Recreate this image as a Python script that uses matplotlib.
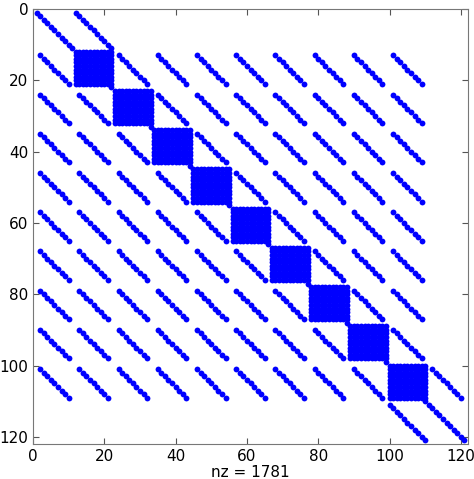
import numpy as np
import matplotlib.pyplot as plt

# block layout: 11 blocks of 11 unknowns (1-based indices)
n_blocks = 11
block_size = 11
dense_rows = (0, 10)        # filled rows inside a diagonal block (0-based offsets, end exclusive)
dense_cols = (0, 11)
inner = (1, 10)             # shortened identity used for couplings
interior_blocks = list(range(1, 10))

N = n_blocks * block_size
A = np.zeros((N, N), dtype=bool)

def eye_block(bi, bj, lo=0, hi=block_size):
    for k in range(lo, hi):
        A[bi * block_size + k, bj * block_size + k] = True

# first block row
eye_block(0, 0)
eye_block(0, 1)
# interior block rows
for bi in interior_blocks:
    r0 = bi * block_size
    A[r0 + dense_rows[0]:r0 + dense_rows[1], r0 + dense_cols[0]:r0 + dense_cols[1]] = True
    A[r0 + 10, r0 + 10] = True
    for bj in interior_blocks + [0]:
        if bj != bi:
            eye_block(bi, bj, *inner)
eye_block(9, 10, *inner)
# last block row
eye_block(10, 9)
eye_block(10, 10)

rows, cols = np.nonzero(A)
nz = len(rows)

fig = plt.figure(figsize=(4.74, 4.79), dpi=100)
ax = fig.add_axes([33 / 474, 35 / 479, 435 / 474, 435 / 479])
ax.plot(cols + 1, rows + 1, 'o', color='#0000ff', markersize=4.2, markeredgewidth=0)
ax.set_xlim(0, 122)
ax.set_ylim(122, 0)
ax.set_xticks(range(0, 121, 20))
ax.set_yticks(range(0, 121, 20))
ax.tick_params(direction='in', labelsize=11, length=4, color='#555555')
ax.xaxis.set_ticks_position('both')
ax.yaxis.set_ticks_position('both')
for s in ax.spines.values():
    s.set_color('#777777')
ax.set_xlabel(f'nz = {nz}', fontsize=11, labelpad=1)
fig.savefig('out.png', dpi=100)
